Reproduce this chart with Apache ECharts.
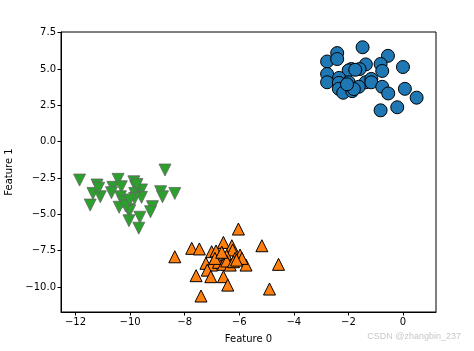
<!DOCTYPE html>
<html>
<head>
    <meta charset="UTF-8">
    <title>make_blobs 散点图</title>
    <script src="https://cdn.jsdelivr.net/npm/echarts@6/dist/echarts.min.js"></script>
    <style>
        body { margin: 0; background: #fff; }
    </style>
</head>
<body>
<div id="main" style="width: 474px;height:351px;"></div>
<script type="text/javascript">
    // 类别 0 (圆点)
    var class0 = [
        [-1.48, 6.50], [-2.41, 6.10], [-2.78, 5.52], [-2.41, 5.69], [-0.55, 5.91],
        [-0.82, 5.35], [-1.36, 5.32], [0.00, 5.14], [-1.89, 5.00], [-1.59, 5.00],
        [-1.99, 4.91], [-0.76, 4.87], [-2.78, 4.66], [-2.34, 4.39], [-2.78, 4.09],
        [-2.35, 4.05], [-1.99, 4.09], [-1.37, 4.09], [-1.16, 4.32], [-1.16, 4.09],
        [-1.62, 3.78], [-2.35, 3.64], [-2.19, 3.37], [-1.86, 3.48], [-1.80, 3.62],
        [-0.76, 3.78], [-0.54, 3.32], [0.07, 3.64], [0.50, 3.03], [-0.21, 2.37],
        [-0.82, 2.16], [-1.75, 4.95], [-2.05, 3.95]
    ];
    // 类别 1 (上三角)
    var class1 = [
        [-6.03, -6.01], [-8.36, -7.92], [-7.74, -7.34], [-7.46, -7.38], [-6.58, -6.93],
        [-6.27, -7.16], [-7.01, -7.57], [-6.85, -7.52], [-5.17, -7.16], [-6.24, -7.45],
        [-6.46, -7.85], [-5.97, -7.80], [-6.15, -8.03], [-7.22, -8.37], [-7.01, -8.49],
        [-6.76, -8.30], [-6.58, -8.44], [-6.33, -8.49], [-5.75, -8.49], [-5.90, -8.03],
        [-7.17, -8.84], [-7.58, -9.22], [-7.04, -9.29], [-6.58, -9.29], [-6.42, -9.87],
        [-4.56, -8.44], [-4.89, -10.14], [-7.40, -10.62], [-6.46, -8.21], [-6.89, -8.03],
        [-6.64, -7.61], [-6.21, -8.26], [-6.10, -8.15]
    ];
    // 类别 2 (下三角)
    var class2 = [
        [-8.72, -1.95], [-11.85, -2.64], [-11.21, -2.98], [-11.36, -3.56], [-11.09, -3.79],
        [-11.46, -4.36], [-10.44, -2.59], [-10.63, -3.14], [-10.32, -3.10], [-10.68, -3.51],
        [-9.86, -2.76], [-9.79, -3.10], [-9.58, -3.32], [-9.83, -3.56], [-9.58, -3.83],
        [-9.83, -3.90], [-10.35, -3.79], [-10.26, -4.13], [-10.40, -4.51], [-10.07, -4.66],
        [-10.01, -4.75], [-10.16, -4.42], [-8.88, -3.44], [-8.81, -3.79], [-8.36, -3.56],
        [-9.18, -4.47], [-9.25, -4.82], [-9.64, -5.20], [-10.04, -5.44], [-9.68, -5.95],
        [-10.01, -4.01], [-9.75, -2.95], [-11.15, -3.20]
    ];
    // 刻度
    var xTicks = [-12, -10, -8, -6, -4, -2, 0];
    var yTicks = [-10, -7.5, -5, -2.5, 0, 2.5, 5, 7.5];

    var font = 'DejaVu Sans';
    function minus(s) { return String(s).replace('-', '\u2212'); }

    echarts.init(document.getElementById('main')).setOption({
        animation: false,
        title: {
            text: 'CSDN @zhangbin_237',
            right: 8,
            bottom: 5,
            textStyle: {fontSize: 9, color: '#c8c8c8', fontWeight: 'normal', fontFamily: 'Arial'}
        },
        grid: {
            left: 61, right: 38, top: 32, bottom: 39,
            containLabel: false, outerBoundsMode: 'none',
            show: true, borderColor: '#000', borderWidth: 1
        },
        xAxis: {
            type: 'value',
            min: -12.53, max: 1.21,
            name: 'Feature 0',
            nameLocation: 'middle',
            nameGap: 22,
            nameTextStyle: {fontFamily: font, fontSize: 10, color: '#000'},
            splitLine: {show: false},
            axisLine: {show: true, onZero: false, lineStyle: {color: '#000', width: 1}},
            axisTick: {show: true, length: 3.5, customValues: xTicks, lineStyle: {color: '#000'}},
            axisLabel: {
                customValues: xTicks, fontFamily: font, fontSize: 10, color: '#000', margin: 5,
                formatter: function (v) { return minus(v); }
            }
        },
        yAxis: {
            type: 'value',
            min: -11.72, max: 7.55,
            name: 'Feature 1',
            nameLocation: 'middle',
            nameGap: 41,
            nameTextStyle: {fontFamily: font, fontSize: 10, color: '#000'},
            splitLine: {show: false},
            axisLine: {show: true, onZero: false, lineStyle: {color: '#000', width: 1}},
            axisTick: {show: true, length: 3.5, customValues: yTicks, lineStyle: {color: '#000'}},
            axisLabel: {
                customValues: yTicks, fontFamily: font, fontSize: 10, color: '#000', margin: 5,
                formatter: function (v) { return minus(v.toFixed(1)); }
            }
        },
        series: [
            {
                type: 'scatter', data: class0, symbol: 'circle', symbolSize: 13,
                itemStyle: {color: '#1f77b4', borderColor: '#000', borderWidth: 1, opacity: 1}
            },
            {
                type: 'scatter', data: class1, symbol: 'triangle', symbolSize: 12,
                itemStyle: {color: '#ff7f0e', borderColor: '#000', borderWidth: 1, opacity: 1}
            },
            {
                type: 'scatter', data: class2, symbol: 'triangle', symbolSize: 12, symbolRotate: 180,
                itemStyle: {color: '#2ca02c', borderColor: '#666', borderWidth: 0.8, opacity: 1}
            }
        ]
    });
</script>
</body>
</html>
